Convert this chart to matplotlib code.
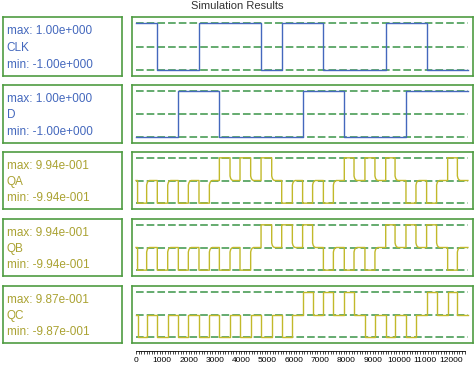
import matplotlib
matplotlib.use("Agg")
import matplotlib.pyplot as plt
import numpy as np

# signal names and the max/min labels shown in the left boxes
names = ["CLK", "D", "QA", "QB", "QC"]
max_labels = ["1.00e+000", "1.00e+000", "9.94e-001", "9.94e-001", "9.87e-001"]
min_labels = ["-1.00e+000", "-1.00e+000", "-9.94e-001", "-9.94e-001", "-9.87e-001"]
amplitudes = [1.0, 1.0, 0.994, 0.994, 0.987]

t_end = 12620

# digital inputs: start level and edge times
clk_start = 1
clk_edges = [810, 2395, 4755, 5540, 7125, 9495, 11050]
d_start = -1
d_edges = [1610, 3170, 6335, 7920, 10265]

# outputs: pulses away from zero, one per clock slot
pulse_start = [60, 810, 1610, 2395, 3170, 3955, 4755, 5540,
               6335, 7125, 7920, 8705, 9495, 10265, 11050, 11850]
pulse_end = [405, 1205, 1990, 2790, 3575, 4360, 5160, 5945,
             6715, 7505, 8290, 9085, 9850, 10645, 11430, 12220]
qa_sign = [-1, -1, -1, -1, 1, 1, 1, -1, -1, -1, 1, 1, 1, -1, -1, 1]
qb_sign = [-1, -1, -1, -1, -1, -1, 1, 1, 1, -1, -1, -1, 1, 1, 1, -1]
qc_sign = [-1, -1, -1, -1, -1, -1, -1, -1, 1, 1, 1, -1, -1, -1, 1, 1]

# residual after the return edge (QA/QB settle slowly back to zero)
settle_dt = [0, 25, 60, 110]
settle_frac = [0.2, 0.09, 0.03, 0.0]

blue = "#4468bd"
olive = "#c2b92a"
olive_text = "#aaa232"
green = "#4f9c42"
dash_green = "#3a9548"


def square_wave(start, edges, amp):
    t = [0]
    y = [start * amp]
    level = start
    for e in edges:
        t += [e, e]
        y += [level * amp, -level * amp]
        level = -level
    t.append(t_end)
    y.append(level * amp)
    return t, y


def pulse_wave(signs, amp, settle):
    t = [0]
    y = [0.0]
    for s0, s1, sg in zip(pulse_start, pulse_end, signs):
        t += [s0, s0, s1]
        y += [0.0, sg * amp, sg * amp]
        if settle:
            for dt, fr in zip(settle_dt, settle_frac):
                t.append(s1 + dt)
                y.append(sg * amp * fr)
        else:
            t.append(s1)
            y.append(0.0)
    t.append(t_end)
    y.append(0.0)
    return t, y


waves = [
    (square_wave(clk_start, clk_edges, 1.0), blue),
    (square_wave(d_start, d_edges, 1.0), blue),
    (pulse_wave(qa_sign, amplitudes[2], True), olive),
    (pulse_wave(qb_sign, amplitudes[3], True), olive),
    (pulse_wave(qc_sign, amplitudes[4], False), olive),
]
text_colors = [blue, blue, olive_text, olive_text, olive_text]

W, H = 474, 365
fig = plt.figure(figsize=(W / 100, H / 100), dpi=100)
plt.rcParams['font.family'] = ['Liberation Sans', 'DejaVu Sans']

fig.text(0.5, 1 - 1 / H, "Simulation Results", ha="center", va="top",
         fontsize=8, color="#333333")

rows = [(17, 76), (85, 143), (152, 209), (219, 276), (286, 343)]
xlim = (-152, 12814)

for i, (top, bot) in enumerate(rows):
    b = 1 - bot / H
    h = (bot - top) / H
    # left label box
    axl = fig.add_axes([3 / W, b, 119 / W, h])
    axl.set_xticks([])
    axl.set_yticks([])
    for sp in axl.spines.values():
        sp.set_color(green)
        sp.set_linewidth(1.2)
    c = text_colors[i]
    axl.text(0.03, 0.76, "max: " + max_labels[i], transform=axl.transAxes,
             color=c, fontsize=8.5, va="center")
    axl.text(0.03, 0.48, names[i], transform=axl.transAxes,
             color=c, fontsize=8.5, va="center")
    axl.text(0.03, 0.19, "min: " + min_labels[i], transform=axl.transAxes,
             color=c, fontsize=8.5, va="center")

    # right waveform box
    ax = fig.add_axes([132 / W, b, 341 / W, h])
    ax.set_xticks([])
    ax.set_yticks([])
    for sp in ax.spines.values():
        sp.set_color(green)
        sp.set_linewidth(1.2)
    ax.set_xlim(*xlim)
    ax.set_ylim(-1.25, 1.25)
    amp = amplitudes[i]
    for lv in (amp, 0, -amp):
        ax.plot([0, t_end], [lv, lv], color=dash_green, lw=1.1,
                dashes=(5, 2), zorder=1)
    (t, y), col = waves[i]
    ax.plot(t, y, color=col, lw=1.0, zorder=2)

# time ruler under the last row
axr = fig.add_axes([132 / W, 1 - 351 / H, 341 / W, 0.01])
axr.set_xlim(*xlim)
axr.set_yticks([])
for s in ("top", "left", "right"):
    axr.spines[s].set_visible(False)
axr.spines["bottom"].set_bounds(0, 12500)
axr.spines["bottom"].set_linewidth(0.6)
axr.patch.set_visible(False)
axr.set_xticks(np.arange(0, 12001, 1000))
axr.set_xticks(np.arange(0, 12501, 100), minor=True)
axr.tick_params(axis="x", which="both", direction="out", length=2.5,
                width=0.5, labelsize=6, pad=2)

fig.savefig("out.png", dpi=100)
